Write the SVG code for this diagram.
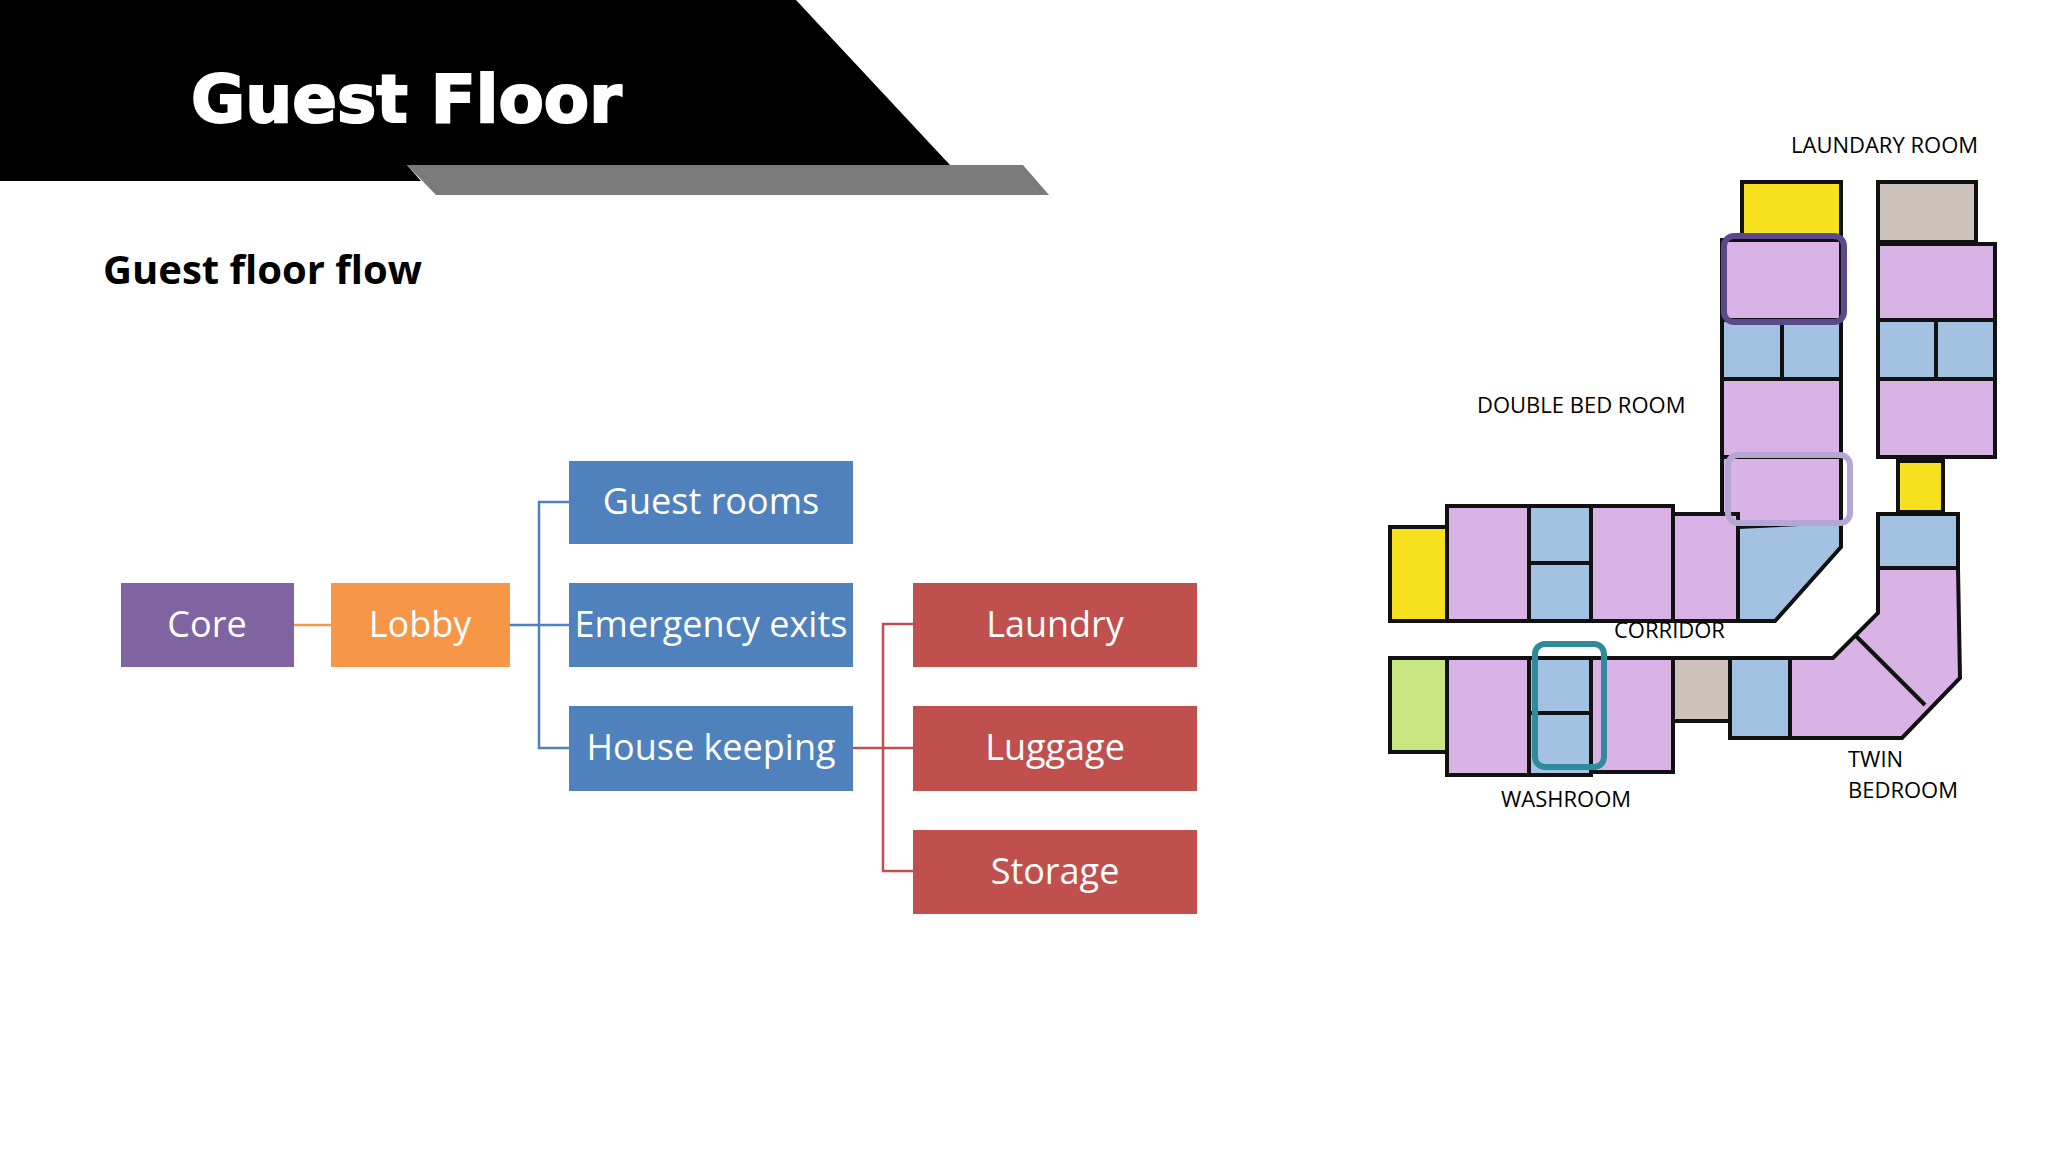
<svg xmlns="http://www.w3.org/2000/svg" width="2048" height="1152" viewBox="0 0 2048 1152">
<style>
.bx{stroke:none}
.bt{font-family:"Open Sans","Noto Sans",sans-serif;font-size:36px;fill:#fff;text-anchor:middle}
.lbl{font-family:"Open Sans","Noto Sans",sans-serif;font-size:22px;fill:#000}
.w{stroke:#111;stroke-width:4}
.g{fill:#d9b3e6}.b{fill:#a3c1e0}.y{fill:#f7e11e}.gr{fill:#ccc3bd}.gn{fill:#c8e682}
</style>
<rect width="2048" height="1152" fill="#fff"/>
<g id="header">
<polygon points="407,165 1023,165 1049,195 436,195" fill="#7a7a7a"/>
<polygon points="0,0 796,0 950,165 407,165 421,181 0,181" fill="#000"/>
<text x="191" y="122" font-family="'DejaVu Sans',sans-serif" font-weight="900" font-size="66" fill="#fff" stroke="#fff" stroke-width="2">Guest Floor</text>
</g>
<text x="103" y="284" font-family="'Open Sans','Noto Sans',sans-serif" font-weight="bold" font-size="40" fill="#000">Guest floor flow</text>
<g id="connectors" fill="none" stroke-width="2.5">
<line x1="294" y1="625" x2="331" y2="625" stroke="#f79646"/>
<path d="M510 625H539M569 502H539V748H569M539 625H569" stroke="#4f81bd"/>
<path d="M853 748H883M913 624H883V871H913M883 748H913" stroke="#c0504d"/>
</g>
<g id="core"><rect x="121" y="583" width="173" height="84" fill="#8064a2"/><text class="bt" x="207" y="637">Core</text></g>
<g id="lobby"><rect x="331" y="583" width="179" height="84" fill="#f79646"/><text class="bt" x="420" y="637">Lobby</text></g>
<g id="guestrooms"><rect x="569" y="461" width="284" height="83" fill="#4f81bd"/><text class="bt" x="711" y="514">Guest rooms</text></g>
<g id="emergency"><rect x="569" y="583" width="284" height="84" fill="#4f81bd"/><text class="bt" x="711" y="637">Emergency exits</text></g>
<g id="housekeeping"><rect x="569" y="706" width="284" height="85" fill="#4f81bd"/><text class="bt" x="711" y="760">House keeping</text></g>
<g id="laundry"><rect x="913" y="583" width="284" height="84" fill="#c0504d"/><text class="bt" x="1055" y="637">Laundry</text></g>
<g id="luggage"><rect x="913" y="706" width="284" height="85" fill="#c0504d"/><text class="bt" x="1055" y="760">Luggage</text></g>
<g id="storage"><rect x="913" y="830" width="284" height="84" fill="#c0504d"/><text class="bt" x="1055" y="884">Storage</text></g>
<g id="floorplan">
<g class="w">
<rect class="y" x="1742" y="182" width="99" height="58"/>
<rect class="gr" x="1878" y="182" width="98" height="60"/>
<rect class="g" x="1722" y="240" width="119" height="80"/>
<rect class="b" x="1722" y="320" width="60" height="59"/><rect class="b" x="1782" y="320" width="59" height="59"/>
<rect class="g" x="1722" y="379" width="119" height="78"/>
<rect class="g" x="1722" y="457" width="119" height="65"/>
<rect class="g" x="1878" y="244" width="117" height="76"/>
<rect class="b" x="1878" y="320" width="58" height="59"/><rect class="b" x="1936" y="320" width="59" height="59"/>
<rect class="g" x="1878" y="379" width="117" height="78"/>
<rect class="y" x="1898" y="461" width="45" height="51"/>
<rect class="b" x="1878" y="514" width="80" height="54"/>
<polygon class="g" points="1878,568 1958,568 1960,678 1902,738 1790,738 1790,658 1833,658 1878,613"/>
<line x1="1855" y1="635" x2="1925" y2="705"/>
<rect class="y" x="1390" y="527" width="57" height="94"/>
<rect class="g" x="1447" y="506" width="82" height="115"/>
<rect class="b" x="1529" y="506" width="62" height="57"/><rect class="b" x="1529" y="563" width="62" height="58"/>
<rect class="g" x="1591" y="506" width="82" height="115"/>
<rect class="g" x="1673" y="514" width="65" height="107"/>
<polygon class="b" points="1738,527 1841,522 1841,547 1775,621 1738,621"/>
<rect class="gn" x="1390" y="658" width="57" height="94"/>
<rect class="g" x="1447" y="658" width="82" height="117"/>
<rect class="b" x="1529" y="658" width="62" height="55"/><rect class="b" x="1529" y="713" width="62" height="62"/>
<rect class="g" x="1591" y="658" width="82" height="114"/>
<rect class="gr" x="1673" y="658" width="57" height="63"/>
<rect class="b" x="1730" y="658" width="60" height="80"/>
</g>
<rect x="1724" y="236" width="120" height="86" rx="10" fill="none" stroke="#5b4a8a" stroke-width="6"/>
<rect x="1728" y="455" width="122" height="68" rx="10" fill="none" stroke="#b4a7d6" stroke-width="6"/>
<rect x="1535" y="644" width="69" height="123" rx="10" fill="none" stroke="#2f8a9c" stroke-width="6"/>
<text class="lbl" x="1791" y="153">LAUNDARY ROOM</text>
<text class="lbl" x="1477" y="413">DOUBLE BED ROOM</text>
<text class="lbl" x="1614" y="638">CORRIDOR</text>
<text class="lbl" x="1501" y="807">WASHROOM</text>
<text class="lbl" x="1848" y="767">TWIN</text>
<text class="lbl" x="1848" y="798">BEDROOM</text>
</g>
</svg>
